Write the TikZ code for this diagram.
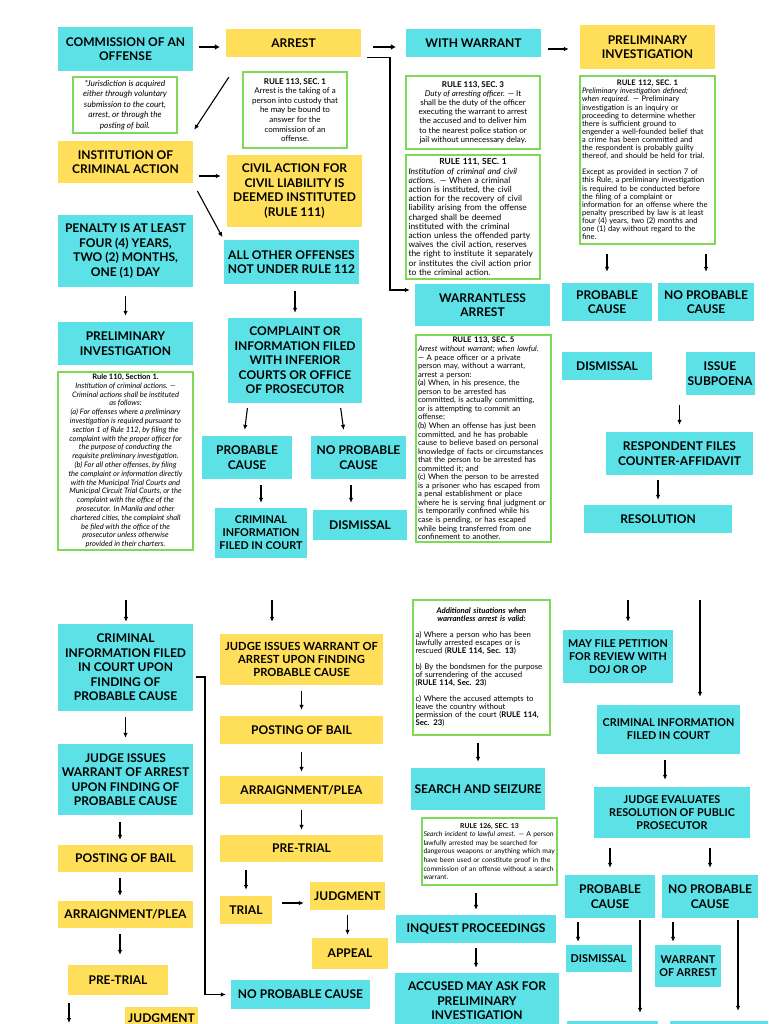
\documentclass[tikz,border=0pt]{standalone}
\usepackage{fontspec}
\setmainfont{Lato}
\usetikzlibrary{arrows.meta}
\definecolor{boxcyan}{HTML}{5CE1E6}
\definecolor{boxyellow}{HTML}{FFDE59}
\definecolor{notegreen}{HTML}{7ED957}
\newcommand\headfont{\bfseries\fontsize{12}{14.5}\selectfont}
\newcommand\midhead{\bfseries\fontsize{11.2}{13.2}\selectfont}
\newcommand\smallhead{\bfseries\fontsize{10.8}{13}\selectfont}
\newcommand\notefont{\fontsize{7}{8.4}\selectfont}
\newcommand\ctitle[1]{\makebox[\linewidth]{\textbf{#1}}}

\begin{document}
\begin{tikzpicture}[x=1pt,y=-1pt,
    cbox/.style={fill=boxcyan,align=center,inner sep=2pt,font=\headfont},
    ybox/.style={fill=boxyellow,align=center,inner sep=2pt,font=\headfont},
    note/.style={draw=notegreen,line width=1.6pt,fill=white,inner sep=3pt,font=\notefont},
    sz/.style 2 args={minimum width=#1pt,minimum height=#2pt},
    arr/.style={-{Latex[length=5pt,width=4.5pt]},line width=1.1pt},
    barr/.style={-{Latex[length=5pt,width=6pt]},line width=2pt}]

  \path[use as bounding box,fill=white] (0,0) rectangle (768,1024);
  \clip (0,0) rectangle (768,1024);

  % the top row

  \node[cbox,sz={135}{44}] (commission) at (125.5,49) {COMMISSION OF AN\\OFFENSE};
  \node[ybox,sz={135}{28}] (arrest) at (293.5,43) {ARREST};
  \node[cbox,sz={135}{28}] (warrant) at (473.5,43) {WITH WARRANT};
  \node[ybox,sz={135}{44}] (prelimtop) at (647.5,47) {PRELIMINARY\\INVESTIGATION};

  % the rule notes

  \node[note,sz={104}{56},align=center,inner sep=1pt,font=\fontsize{8.3}{10.5}\selectfont\itshape] (juris) at (125,105)
  {*Jurisdiction is acquired\\either through voluntary\\submission to the court,\\arrest, or through the\\posting of bail.};
  \node[note,sz={104}{76},align=center,inner sep=1pt,font=\fontsize{8}{9.6}\selectfont] (rulearrest) at (295,110)
  {\textbf{RULE 113, SEC. 1}\\Arrest is the taking of a\\person into custody that\\he may be bound to\\answer for the\\commission of an\\offense.};
  \node[note,sz={134}{73},align=center,inner sep=1pt,font=\fontsize{8}{9.2}\selectfont] (ruleduty) at (473,112.5)
  {\textbf{RULE 113, SEC. 3}\\\textit{Duty of arresting officer.} — It\\shall be the duty of the officer\\executing the warrant to arrest\\the accused and to deliver him\\to the nearest police station or\\jail without unnecessary delay.};
  \node[note,sz={134}{124},text width=129pt,align=left,inner sep=2.5pt,font=\fontsize{8.4}{9.2}\selectfont] (rulecivil) at (473,217)
  {\ctitle{RULE 111, SEC. 1}\\\textit{Institution of criminal and civil}\\\textit{actions.} — When a criminal\\action is instituted, the civil\\action for the recovery of civil\\liability arising from the offense\\charged shall be deemed\\instituted with the criminal\\action unless the offended party\\waives the civil action, reserves\\the right to institute it separately\\or institutes the civil action prior\\to the criminal action.};
  \node[note,sz={135}{168},text width=131pt,align=left,inner sep=2pt,font=\fontsize{7.6}{8.1}\selectfont] (ruleprelim) at (647.5,160)
  {\ctitle{RULE 112, SEC. 1}\\\textit{Preliminary investigation defined;}\\\textit{when required.} — Preliminary\\investigation is an inquiry or\\proceeding to determine whether\\there is sufficient ground to\\engender a well-founded belief that\\a crime has been committed and\\the respondent is probably guilty\\thereof, and should be held for trial.\\[8.1pt]Except as provided in section 7 of\\this Rule, a preliminary investigation\\is required to be conducted before\\the filing of a complaint or\\information for an offense where the\\penalty prescribed by law is at least\\four (4) years, two (2) months and\\one (1) day without regard to the\\fine.};

  % criminal action, left and middle

  \node[ybox,sz={135}{42}] (institution) at (125.5,162) {INSTITUTION OF\\CRIMINAL ACTION};
  \node[ybox,sz={135}{72}] (civil) at (294.5,191) {CIVIL ACTION FOR\\CIVIL LIABILITY IS\\DEEMED INSTITUTED\\(RULE 111)};
  \node[cbox,sz={135}{44}] (allother) at (291.5,262) {ALL OTHER OFFENSES\\NOT UNDER RULE 112};
  \node[cbox,sz={135}{72}] (penalty) at (125.5,251) {PENALTY IS AT LEAST\\FOUR (4) YEARS,\\TWO (2) MONTHS,\\ONE (1) DAY};
  \node[cbox,sz={135}{43}] (prelimleft) at (125.5,343.5) {PRELIMINARY\\INVESTIGATION};
  \node[note,sz={135}{178},align=center,inner sep=1pt,font=\fontsize{7.5}{8.8}\selectfont\itshape] (rulefiling) at (125.5,461)
  {\textup{\textbf{Rule 110, Section 1.}}\\Institution of criminal actions. —\\Criminal actions shall be instituted\\as follows:\\(a) For offenses where a preliminary\\investigation is required pursuant to\\section 1 of Rule 112, by filing the\\complaint with the proper officer for\\the purpose of conducting the\\requisite preliminary investigation.\\(b) For all other offenses, by filing\\the complaint or information directly\\with the Municipal Trial Courts and\\Municipal Circuit Trial Courts, or the\\complaint with the office of the\\prosecutor. In Manila and other\\chartered cities, the complaint shall\\be filed with the office of the\\prosecutor unless otherwise\\provided in their charters.};
  \node[cbox,sz={134}{85}] (complaint) at (295,360.5) {COMPLAINT OR\\INFORMATION FILED\\WITH INFERIOR\\COURTS OR OFFICE\\OF PROSECUTOR};
  \node[cbox,sz={90}{43}] (pcleft) at (247,457.5) {PROBABLE\\CAUSE};
  \node[cbox,sz={95}{43}] (npcleft) at (358.5,457.5) {NO PROBABLE\\CAUSE};
  \node[cbox,sz={92}{50},font=\smallhead] (filedleft) at (261,533) {CRIMINAL\\INFORMATION\\FILED IN COURT};
  \node[cbox,sz={94}{30}] (dismissleft) at (360,525) {DISMISSAL};

  % warrantless arrest

  \node[cbox,sz={135}{42}] (warrantless) at (482.5,305) {WARRANTLESS\\ARREST};
  \node[note,sz={135}{207},text width=131pt,align=left,inner sep=2pt,font=\fontsize{7.7}{8.55}\selectfont] (rulewarrantless) at (483.5,438.5)
  {\ctitle{RULE 113, SEC. 5}\\\textit{Arrest without warrant; when lawful.}\\— A peace officer or a private\\person may, without a warrant,\\arrest a person:\\(a) When, in his presence, the\\person to be arrested has\\committed, is actually committing,\\or is attempting to commit an\\offense;\\(b) When an offense has just been\\committed, and he has probable\\cause to believe based on personal\\knowledge of facts or circumstances\\that the person to be arrested has\\committed it; and\\(c) When the person to be arrested\\is a prisoner who has escaped from\\a penal establishment or place\\where he is serving final judgment or\\is temporarily confined while his\\case is pending, or has escaped\\while being transferred from one\\confinement to another.};

  % preliminary investigation, right

  \node[cbox,sz={90}{38}] (pcright) at (607,302) {PROBABLE\\CAUSE};
  \node[cbox,sz={96}{38}] (npcright) at (706,302) {NO PROBABLE\\CAUSE};
  \node[cbox,sz={90}{28}] (dismissright) at (607,366) {DISMISSAL};
  \node[cbox,sz={68}{43}] (subpoena) at (720,373.5) {ISSUE\\SUBPOENA};
  \node[cbox,sz={147}{43}] (counter) at (679.5,453.5) {RESPONDENT FILES\\COUNTER-AFFIDAVIT};
  \node[cbox,sz={148}{28}] (resolution) at (658,519) {RESOLUTION};

  % the second half, left

  \node[cbox,sz={135}{87}] (filedcause) at (125.5,667.5) {CRIMINAL\\INFORMATION FILED\\IN COURT UPON\\FINDING OF\\PROBABLE CAUSE};
  \node[cbox,sz={135}{71}] (judgeleft) at (125.5,779.5) {JUDGE ISSUES\\WARRANT OF ARREST\\UPON FINDING OF\\PROBABLE CAUSE};
  \node[ybox,sz={135}{27}] (bailleft) at (125.5,858.5) {POSTING OF BAIL};
  \node[ybox,sz={135}{27}] (plealeft) at (125.5,914.5) {ARRAIGNMENT/PLEA};
  \node[ybox,sz={100}{30}] (pretrialleft) at (118,980) {PRE-TRIAL};
  \node[ybox,sz={73}{22}] (judgmentleft) at (161.5,1018) {JUDGMENT};
  \node[cbox,sz={139}{29}] (npcbottom) at (300.5,994.5) {NO PROBABLE CAUSE};

  % the second half, middle

  \node[ybox,sz={163}{51},font=\midhead] (judgemid) at (301.5,659.5) {JUDGE ISSUES WARRANT OF\\ARREST UPON FINDING\\PROBABLE CAUSE};
  \node[ybox,sz={163}{28}] (bailmid) at (301.5,730) {POSTING OF BAIL};
  \node[ybox,sz={163}{28}] (pleamid) at (301.5,790) {ARRAIGNMENT/PLEA};
  \node[ybox,sz={163}{27}] (pretrialmid) at (301.5,848.5) {PRE-TRIAL};
  \node[ybox,sz={52}{28}] (trial) at (246,910) {TRIAL};
  \node[ybox,sz={75}{28}] (judgmentmid) at (347.5,896) {JUDGMENT};
  \node[ybox,sz={76}{31}] (appeal) at (350,953.5) {APPEAL};

  % search and seizure

  \node[note,sz={137}{135},text width=132pt,align=left,inner sep=2.5pt,font=\fontsize{7.8}{8.3}\selectfont] (additional) at (481.5,667.5)
  {\ctitle{\textit{Additional situations when}}\\\ctitle{\textit{warrantless arrest is valid:}}\\[7pt]a) Where a person who has been\\lawfully arrested escapes or is\\rescued (\textbf{RULE 114, Sec. 13})\\[7pt]b) By the bondsmen for the purpose\\of surrendering of the accused\\(\textbf{RULE 114, Sec. 23})\\[7pt]c) Where the accused attempts to\\leave the country without\\permission of the court (\textbf{RULE 114,}\\\textbf{Sec. 23})};
  \node[cbox,sz={134}{42}] (search) at (478,789) {SEARCH AND SEIZURE};
  \node[note,sz={135}{67},text width=132pt,align=left,inner sep=1.5pt,font=\fontsize{6.8}{8.6}\selectfont] (rulesearch) at (489.5,851.5)
  {\ctitle{RULE 126, SEC. 13}\\\textit{Search incident to lawful arrest.} — A person\\lawfully arrested may be searched for\\dangerous weapons or anything which may\\have been used or constitute proof in the\\commission of an offense without a search\\warrant.};
  \node[cbox,sz={160}{28}] (inquest) at (476,929) {INQUEST PROCEEDINGS};
  \node[cbox,sz={164}{56}] (accused) at (477,1001) {ACCUSED MAY ASK FOR\\PRELIMINARY\\INVESTIGATION};

  % the second half, right

  \node[cbox,sz={110}{53},font=\smallhead] (petition) at (618,656.5) {MAY FILE PETITION\\FOR REVIEW WITH\\DOJ OR OP};
  \node[cbox,sz={143}{49},font=\smallhead] (filedright) at (668.5,729.5) {CRIMINAL INFORMATION\\FILED IN COURT};
  \node[cbox,sz={156}{51},font=\smallhead] (evaluates) at (672,812.5) {JUDGE EVALUATES\\RESOLUTION OF PUBLIC\\PROSECUTOR};
  \node[cbox,sz={90}{43}] (pcjudge) at (610,896.5) {PROBABLE\\CAUSE};
  \node[cbox,sz={96}{43}] (npcjudge) at (710,896.5) {NO PROBABLE\\CAUSE};
  \node[cbox,sz={66}{27},font=\smallhead] (dismissjudge) at (598.5,958.5) {DISMISSAL};
  \node[cbox,sz={66}{42},font=\smallhead] (warrantjudge) at (688,966) {WARRANT\\OF ARREST};
  \node[cbox,sz={91}{40}] (nexta) at (612.5,1041) {};
  \node[cbox,sz={100}{40}] (nextb) at (720,1041) {};

  % loose ends
  \coordinate (wlbend) at (390,290);
  \coordinate (npcbend) at (205,994.5);
  \coordinate (topleft) at (126,600);
  \coordinate (topmid) at (272,600);
  \coordinate (toppetition) at (628,600);
  \coordinate (topfiled) at (700,600);
  \coordinate (pretrialout) at (69,1023);

  % the arrows

  \draw[barr,shorten <=6pt,shorten >=6pt] ([yshift=2pt]commission.east) -- ([yshift=2pt]commission.east -| arrest.west);
  \draw[barr,shorten <=12pt,shorten >=10pt] ([yshift=-4pt]arrest.east) -- ([yshift=-4pt]arrest.east -| warrant.west);
  \draw[arr,shorten <=7pt,shorten >=11pt] ([yshift=-6pt]warrant.east) -- ([yshift=-6pt]warrant.east -| prelimtop.west);
  \draw[arr] ([xshift=3pt,yshift=-20pt]arrest.south west) -- ([xshift=1pt,yshift=11pt]institution.north east);
  \draw[arr,shorten <=6pt,shorten >=6pt] ([yshift=-14pt]institution.east) -- ([yshift=-14pt]institution.east -| civil.west);
  \draw[arr,shorten <=9pt,shorten >=3pt] (institution.south east) -- (allother.north west);
  \draw[arr,shorten <=7pt,shorten >=5pt] (complaint.north |- allother.south) -- (complaint.north);
  \draw[arr,shorten <=9pt,shorten >=6pt] (penalty.south) -- (prelimleft.north);
  \draw[arr,shorten <=5pt,shorten >=6pt] ([xshift=-47pt]complaint.south) -- ([xshift=-3pt]pcleft.north);
  \draw[arr,shorten <=5pt,shorten >=6pt] ([xshift=45pt]complaint.south) -- ([xshift=-14pt]npcleft.north);
  \draw[arr,shorten <=6pt,shorten >=5pt] (filedleft.north |- pcleft.south) -- (filedleft.north);
  \draw[arr,shorten <=6pt,shorten >=7pt] ([xshift=-7.5pt]npcleft.south) -- ([xshift=-7.5pt]npcleft.south |- dismissleft.north);
  \draw[arr,shorten >=5pt] ([xshift=6pt]arrest.south east) -| (wlbend) -- (wlbend -| warrantless.west);

  \draw[arr,shorten <=9pt,shorten >=11pt] (pcright.north |- ruleprelim.south) -- (pcright.north);
  \draw[arr,shorten <=9pt,shorten >=11pt] (npcright.north |- ruleprelim.south) -- (npcright.north);
  \draw[arr,shorten <=10pt,shorten >=7pt] (counter.north |- subpoena.south) -- (counter.north);
  \draw[arr,shorten <=5pt,shorten >=5pt] (resolution.north |- counter.south) -- (resolution.north);

  \draw[arr,shorten >=2pt] (topleft) -- (topleft |- filedcause.north);
  \draw[arr,shorten >=12pt] (topmid) -- (topmid |- judgemid.north);
  \draw[arr,shorten >=8pt] (toppetition) -- (toppetition |- petition.north);
  \draw[arr,shorten >=8pt] (topfiled) -- (topfiled |- filedright.north);

  \draw[arr,shorten <=6pt,shorten >=6pt] (filedcause.south) -- (judgeleft.north);
  \draw[arr,shorten <=7pt,shorten >=5pt] ([xshift=-5.5pt]judgeleft.south) -- ([xshift=-5.5pt]judgeleft.south |- bailleft.north);
  \draw[arr,shorten <=6pt,shorten >=5pt] ([xshift=-5.5pt]bailleft.south) -- ([xshift=-5.5pt]bailleft.south |- plealeft.north);
  \draw[arr,shorten <=6pt,shorten >=10pt] ([xshift=-5.5pt]plealeft.south) -- ([xshift=-5.5pt]plealeft.south |- pretrialleft.north);
  \draw[arr,shorten <=8pt] (pretrialleft.south west -| pretrialout) -- (pretrialout);
  \draw[arr,line width=1.5pt,shorten >=5pt] ([xshift=3pt,yshift=-9.5pt]filedcause.east) -| (npcbend) -- (npcbottom.west);

  \draw[arr,shorten <=6pt,shorten >=6pt] (judgemid.south) -- (bailmid.north);
  \draw[arr,shorten <=8pt,shorten >=4pt] (bailmid.south) -- (pleamid.north);
  \draw[arr,shorten <=6pt,shorten >=5pt] (pleamid.south) -- (pretrialmid.north);
  \draw[arr,shorten <=8pt,shorten >=6pt] (trial.north |- pretrialmid.south) -- (trial.north);
  \draw[arr,shorten <=10pt,shorten >=6pt] ([yshift=7pt]trial.east) -- ([yshift=7pt]trial.east -| judgmentmid.west);
  \draw[arr,shorten <=5pt,shorten >=3pt] (judgmentmid.south) -- (judgmentmid.south |- appeal.north);

  \draw[arr,shorten <=7pt,shorten >=6pt] (search.north |- additional.south) -- (search.north);
  \draw[arr,shorten <=7pt,shorten >=5pt] (inquest.north |- rulesearch.south) -- (inquest.north);
  \draw[arr,shorten <=5pt,shorten >=5pt] (inquest.south) -- (inquest.south |- accused.north);

  \draw[arr,shorten <=6pt,shorten >=7pt] ([xshift=-3.5pt]filedright.south) -- ([xshift=-3.5pt]filedright.south |- evaluates.north);
  \draw[arr,shorten <=10pt,shorten >=7pt] (pcjudge.north |- evaluates.south) -- (pcjudge.north);
  \draw[arr,shorten <=10pt,shorten >=7pt] (npcjudge.north |- evaluates.south) -- (npcjudge.north);
  \draw[arr,shorten <=4pt,shorten >=3pt] ([xshift=-32pt]pcjudge.south) -- ([xshift=-32pt]pcjudge.south |- dismissjudge.north);
  \draw[arr,shorten <=4pt,shorten >=3pt] ([xshift=-37pt]npcjudge.south) -- ([xshift=-37pt]npcjudge.south |- warrantjudge.north);
  \draw[arr,shorten <=2pt,shorten >=8pt] ([xshift=30pt]pcjudge.south) -- ([xshift=30pt]pcjudge.south |- nexta.north);
  \draw[arr,shorten <=2pt,shorten >=10pt] ([xshift=28pt]npcjudge.south) -- ([xshift=28pt]npcjudge.south |- nextb.north);
\end{tikzpicture}
\end{document}
